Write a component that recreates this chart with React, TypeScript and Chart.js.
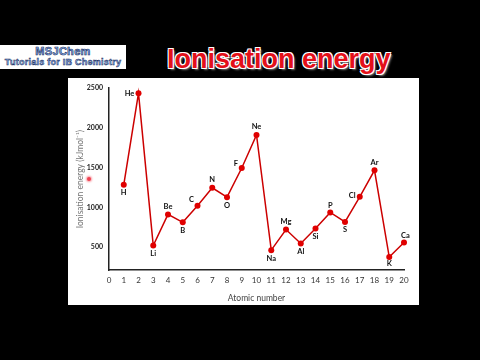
import React, { useEffect, useRef } from "react";
import { Chart, registerables } from "chart.js";

Chart.register(...registerables);

// ---- data ----
const atomicNumbers = [1, 2, 3, 4, 5, 6, 7, 8, 9, 10, 11, 12, 13, 14, 15, 16, 17, 18, 19, 20];
const elements = ["H", "He", "Li", "Be", "B", "C", "N", "O", "F", "Ne", "Na", "Mg", "Al", "Si", "P", "S", "Cl", "Ar", "K", "Ca"];
const ionisationEnergy = [1284, 2437, 521, 912, 812, 1021, 1246, 1129, 1496, 1912, 462, 721, 546, 733, 937, 817, 1133, 1467, 375, 559];
const yTickValues = [500, 1000, 1500, 2000, 2500];
const xMin = 0;
const xMax = 20;
const yMin = 212;
const yMax = 2500;

// label placement (style)
const placement: Record<string, [number, number]> = {
  H: [0, 8], He: [-9, 0], Li: [0, 8], Be: [0, -7.5], B: [0, 8.5], C: [-6, -6],
  N: [0, -8], O: [0, 8], F: [-6, -4], Ne: [0, -8], Na: [0, 8], Mg: [0, -8],
  Al: [0, 8], Si: [0, 8], P: [0, -7], S: [0, 8], Cl: [-7.5, -1.5], Ar: [0, -7.5],
  K: [0, 7], Ca: [1.5, -7],
};

const labelPlugin = {
  id: "elementLabels",
  afterDatasetsDraw(chart: any) {
    const meta = chart.getDatasetMeta(0);
    const ctx = chart.ctx;
    ctx.save();
    ctx.font = "bold 7.5px Lato";
    ctx.fillStyle = "#111";
    ctx.textAlign = "center";
    ctx.textBaseline = "middle";
    meta.data.forEach((pt: any, i: number) => {
      const [dx, dy] = placement[elements[i]] || [0, -8];
      ctx.fillText(elements[i], pt.x + dx, pt.y + dy);
    });
    ctx.restore();
  },
};

function IEChart() {
  const ref = useRef<HTMLCanvasElement>(null);
  useEffect(() => {
    const chart = new Chart(ref.current as HTMLCanvasElement, {
      type: "line",
      data: {
        datasets: [
          {
            data: atomicNumbers.map((z, i) => ({ x: z, y: ionisationEnergy[i] })),
            borderColor: "#cc0000",
            borderWidth: 1.5,
            pointRadius: 3,
            pointBackgroundColor: "#e00000",
            pointBorderColor: "#e00000",
            pointBorderWidth: 0,
            tension: 0,
            clip: false,
          },
        ],
      },
      options: {
        animation: false,
        responsive: false,
        devicePixelRatio: 1,
        layout: { padding: { left: 3, right: 15, top: 9, bottom: 1 } },
        plugins: { legend: { display: false }, tooltip: { enabled: false } },
        scales: {
          x: {
            type: "linear",
            min: xMin,
            max: xMax,
            grid: { display: false, drawTicks: false },
            border: { color: "#222", width: 1.5 },
            ticks: { stepSize: 1, color: "#333", font: { family: "Lato", size: 8 }, padding: 6, maxRotation: 0, autoSkip: false },
            title: { display: true, text: "Atomic number", color: "#444", font: { family: "Lato", size: 8.5 }, padding: { top: 2, bottom: 1 } },
            afterFit: (s: any) => { s.height = 34; },
          },
          y: {
            min: yMin,
            max: yMax,
            grid: { display: false, drawTicks: false },
            border: { color: "#222", width: 1.5 },
            afterBuildTicks: (s: any) => { s.ticks = yTickValues.map((v) => ({ value: v })); },
            ticks: { color: "#222", font: { family: "Lato", size: 7, weight: "bold" }, padding: 6, callback: (v: any) => String(v) },
            title: { display: true, text: "Ionisation energy (kJmol⁻¹)", color: "#777", font: { family: "Lato", size: 8.5 }, padding: { top: 4, bottom: 2 } },
            afterFit: (s: any) => { s.width = 38; },
          },
        },
      },
      plugins: [labelPlugin],
    } as any);
    return () => chart.destroy();
  }, []);
  return <canvas ref={ref} width={351} height={227} style={{ display: "block" }} />;
}

export default function App() {
  useEffect(() => {
    document.body.style.margin = "0";
    document.body.style.background = "#000";
  }, []);
  return (
    <div style={{ position: "relative", width: 480, height: 360, background: "#000", overflow: "hidden" }}>
      <div style={{ position: "absolute", left: 0, top: 45, width: 126, height: 24, background: "#fff", textAlign: "center", fontFamily: "'Liberation Sans', Arial, sans-serif", fontWeight: "bold" }}>
        <div style={{ fontSize: 11, lineHeight: "12px", marginTop: 0, color: "#8db8f2", WebkitTextStroke: "0.6px #1b2a5a", letterSpacing: 0.3 } as any}>MSJChem</div>
        <div style={{ fontSize: 9, lineHeight: "11px", color: "#8db8f2", whiteSpace: "nowrap", WebkitTextStroke: "0.5px #1b2a5a", letterSpacing: 0.25 } as any}>Tutorials for IB Chemistry</div>
      </div>
      <div style={{ position: "absolute", left: 167, top: 46, fontFamily: "'Liberation Sans', Arial, sans-serif", fontWeight: "bold", fontSize: 27, lineHeight: "27px", color: "#e3101a", whiteSpace: "nowrap", textShadow: "-1px -1px 0 #fff, 1px -1px 0 #fff, -1px 1px 0 #fff, 1px 1px 0 #fff, 2px 2px 2px #777" }}>
        Ionisation energy
      </div>
      <div style={{ position: "absolute", left: 68, top: 78, width: 351, height: 227, background: "#fff" }}>
        <IEChart />
      </div>
      <div style={{ position: "absolute", left: 87, top: 177, width: 4, height: 4, borderRadius: "50%", background: "#f04050", boxShadow: "0 0 2px 1px #f8a0a8" }} />
    </div>
  );
}
